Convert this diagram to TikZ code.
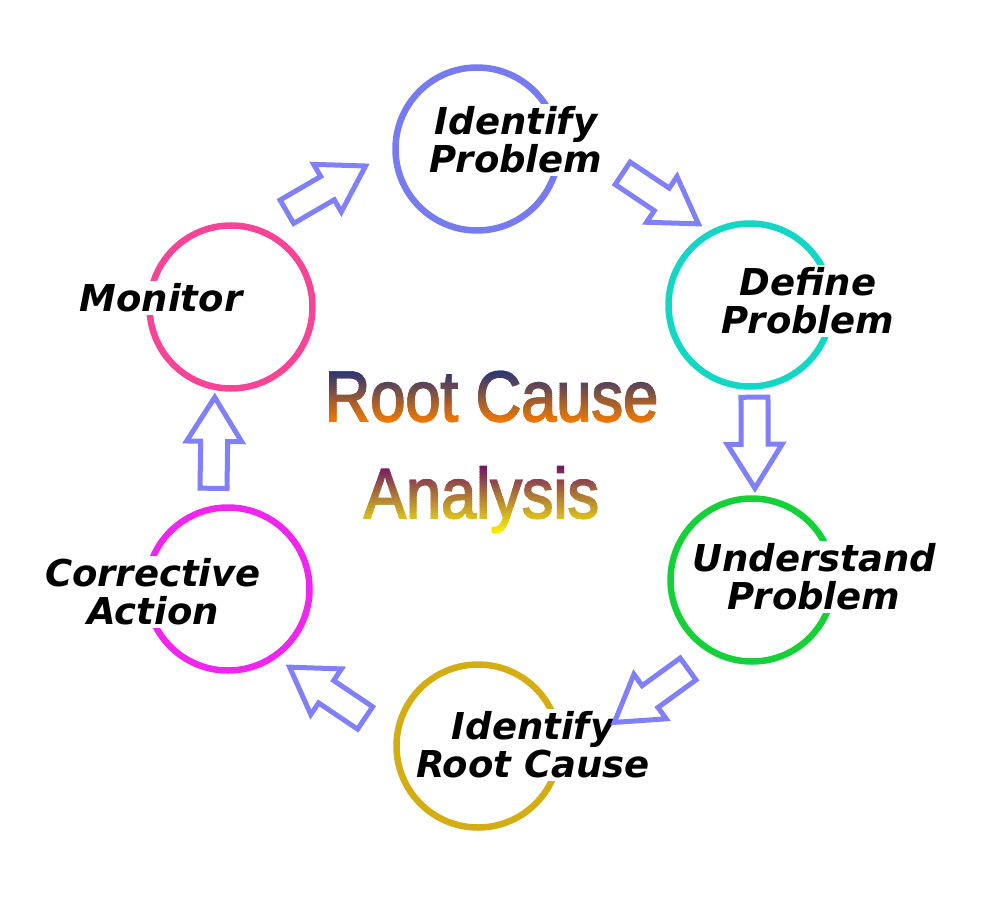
\documentclass[tikz,border=0pt]{standalone}
\usepackage{fontspec}
\newfontfamily\lblfont{DejaVu Sans}
\newfontfamily\ttlfont{Liberation Sans}[FakeBold=2.5]
\usetikzlibrary{shapes.arrows,positioning}
\definecolor{idpcolor}{RGB}{118,124,240}
\definecolor{defcolor}{RGB}{20,214,196}
\definecolor{undcolor}{RGB}{22,208,58}
\definecolor{rootcolor}{RGB}{212,172,20}
\definecolor{corcolor}{RGB}{238,38,238}
\definecolor{moncolor}{RGB}{246,68,150}
\definecolor{arrowcolor}{RGB}{128,128,250}
\definecolor{rctop}{RGB}{20,45,128}
\definecolor{rcbot}{RGB}{245,122,0}
\definecolor{antop}{RGB}{105,10,105}
\definecolor{anbot}{RGB}{250,245,0}
\tikzset{
  stage/.style={circle, draw=#1, line width=6.5pt, minimum size=163pt, inner sep=0pt},
  stagelbl/.style={fill=white, inner sep=3pt, align=center,
    font=\lblfont\bfseries\itshape\fontsize{37}{38}\selectfont},
  flowarrow/.style={single arrow, draw=arrowcolor, fill=white, line width=5pt,
    minimum height=91pt, inner xsep=0pt, inner ysep=11pt,
    single arrow head extend=14pt, single arrow tip angle=64,
    sloped, allow upside down, anchor=center},
  titletxt/.style={font=\ttlfont\fontsize{71}{71}\selectfont, xscale=0.89,
    anchor=base, inner sep=0pt},
}

\begin{document}
\begin{tikzpicture}[x=1pt, y=-1pt]
  \useasboundingbox (0,0) rectangle (1000,912);
  % Rings
  \node[stage=idpcolor] (idp) at (477,149) {};
  \node[stage=defcolor] (def) at (750,305) {};
  \node[stage=undcolor] (und) at (752,580) {};
  \node[stage=rootcolor] (rc) at (478,746) {};
  \node[stage=corcolor] (cor) at (228,589) {};
  \node[stage=moncolor] (mon) at (231,307) {};
  % Labels (white boxes cut the rings)
  \node[stagelbl] (idp-lbl) at (516,140) {Identify\\Problem};
  \node[stagelbl] (def-lbl) at (808,301) {Define\\Problem};
  \node[stagelbl] (und-lbl) at (814,577) {Understand\\Problem};
  \node[stagelbl] (rc-lbl) at (533,745) {Identify\\Root Cause};
  \node[stagelbl] (cor-lbl) at (153,592) {Corrective\\Action};
  \node[stagelbl] (mon-lbl) at (161,298) {Monitor};
  % Title, shaded top to bottom in thin bands
  \foreach \k in {0,...,29} {
    \pgfmathsetmacro{\mixv}{100*\k/29}
    \begin{scope}
      \clip (300,{366+1.94*\k}) rectangle (700,{366+1.94*(\k+1)+0.4});
      \node[titletxt, text=rcbot!\mixv!rctop] (ttl-a\k) at (491.5,421) {Root Cause};
    \end{scope}
    \begin{scope}
      \clip (300,{462+2.45*\k}) rectangle (700,{462+2.45*(\k+1)+0.4});
      \node[titletxt, text=anbot!\mixv!antop] (ttl-b\k) at (481.5,518) {Analysis};
    \end{scope}
  }
  % Arrows round the cycle
  \path (mon.70) -- node[flowarrow, pos=0.43] (a1) {} (idp.181);
  \path (idp.12) -- node[flowarrow, pos=0.615] (a2) {} (def.119);
  \path (def.-87) -- node[flowarrow, pos=0.4] (a3) {} (und.88);
  \path (und.240) -- node[flowarrow, pos=0.335] (a4) {} (rc.-10);
  \path (rc.174) -- node[flowarrow, pos=0.49] (a5) {} (cor.-55);
  \path (cor.100) -- node[flowarrow, pos=0.45] (a6) {} (mon.259);
\end{tikzpicture}
\end{document}
